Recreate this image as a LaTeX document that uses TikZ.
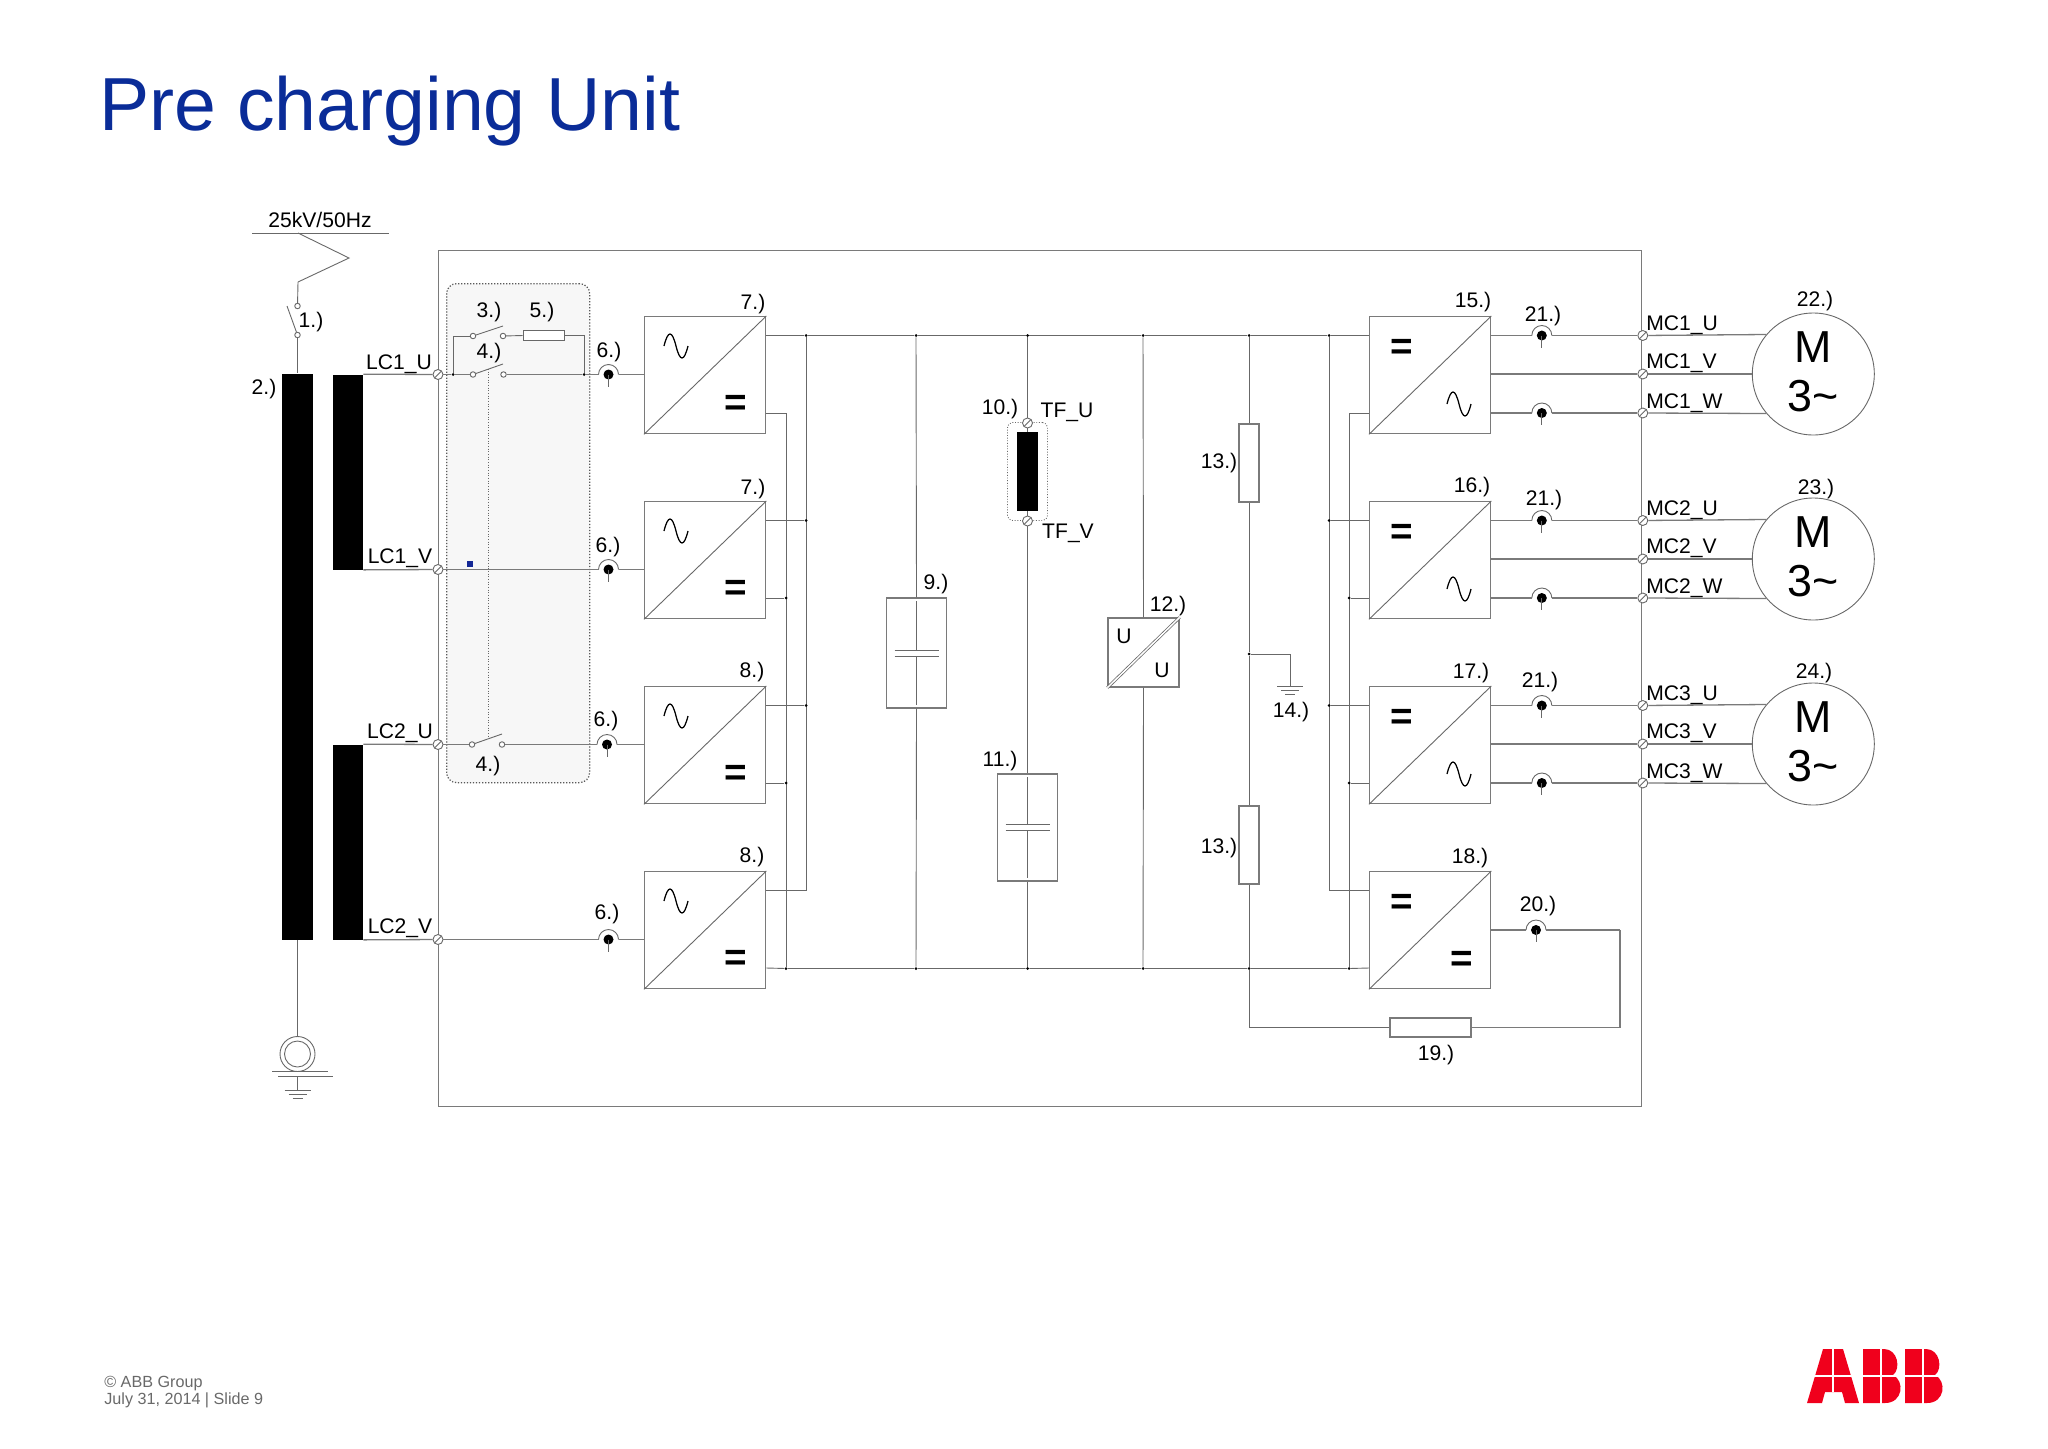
\documentclass[tikz,border=0pt]{standalone}
\usepackage{fontspec}
\setmainfont{Liberation Sans}
\usetikzlibrary{calc}
\definecolor{wirecolor}{RGB}{122,122,122}
\definecolor{titleblue}{RGB}{10,44,152}
\definecolor{footgray}{RGB}{105,105,105}
\definecolor{abbred}{RGB}{240,0,28}
\definecolor{shadegray}{RGB}{247,247,247}
\definecolor{markblue}{RGB}{20,40,150}
\tikzset{
    wire/.style={
        draw=wirecolor,
        line width=0.26mm,
    },
    thin wire/.style={
        draw=wirecolor!85!black,
        line width=0.18mm,
    },
    part label/.style={
        font=\fontsize{12}{14}\selectfont,
        inner sep=0,
        anchor=base,
    },
    name label/.style={
        part label,
    },
    motor text/.style={
        font=\fontsize{25.5}{28}\selectfont,
        inner sep=0,
        anchor=base,
    },
    junction point/.style={
        fill=black,
        circle,
        minimum size=0.6mm,
        inner sep=0,
    },
    terminal point/.style={
        thin wire,
        fill=white,
        circle,
        minimum size=2mm,
        inner sep=0,
        path picture={
            \draw[thin wire] (path picture bounding box.south west) -- (path picture bounding box.north east);
        },
    },
    contact point/.style={
        thin wire,
        fill=white,
        circle,
        minimum size=1.1mm,
        inner sep=0,
    },
    fuse dot/.style={
        fill=black,
        circle,
        minimum size=2mm,
        inner sep=0,
    },
    coil block/.style={
        fill=black,
        rectangle,
        inner sep=0,
    },
    plain box/.style={
        wire,
        rectangle,
        fill=white,
        inner sep=0,
    },
    converter box/.style={
        plain box,
        anchor=north west,
        minimum width=24.2mm,
        minimum height=23.4mm,
    },
    motor circle/.style={
        thin wire,
        circle,
        fill=white,
        minimum size=24.4mm,
        inner sep=0,
    },
    equal sign/.style={
        font=\fontsize{22}{24}\selectfont\bfseries,
        inner sep=0,
    },
    sine wave/.style={
        draw=black,
        line width=0.25mm,
    },
}
\begin{document}
\begin{tikzpicture}[x=0.2mm,y=-0.2mm]

    \useasboundingbox (0,0) rectangle (2048,1448);

    \newcommand\sinewave[1]{
        \draw[sine wave] ($(#1)+(-12,0)$) .. controls ($(#1)+(-8,-16)$) and ($(#1)+(-4,-16)$) .. (#1)
            .. controls ($(#1)+(4,16)$) and ($(#1)+(8,16)$) .. ($(#1)+(12,0)$);
    }
    \newcommand\fusemark[2]{
        \node[fuse dot] (#1) at (#2) {};
        \coordinate (#1w) at ($(#1.center)+(-10,0)$);
        \coordinate (#1e) at ($(#1.center)+(10,0)$);
        \draw[thin wire] (#1w) arc[start angle=180,end angle=0,radius=2mm];
        \draw[thin wire] (#1.center) -- ($(#1.center)+(0,12)$);
    }
    \newcommand\capplates[1]{
        \draw[thin wire] ($(#1.north)+(0,4)$) -- ($(#1.center)+(0,-3)$);
        \draw[thin wire] ($(#1.south)+(0,-4)$) -- ($(#1.center)+(0,3)$);
        \draw[thin wire] ($(#1.center)+(-22,-3)$) -- ($(#1.center)+(22,-3)$);
        \draw[thin wire] ($(#1.center)+(-22,3)$) -- ($(#1.center)+(22,3)$);
    }
    \newcommand\earthmark[1]{
        \draw[thin wire] ($(#1)+(-13,0)$) -- ($(#1)+(13,0)$);
        \draw[thin wire] ($(#1)+(-9,4)$) -- ($(#1)+(9,4)$);
        \draw[thin wire] ($(#1)+(-5,8)$) -- ($(#1)+(5,8)$);
    }

    % slide texts
    \node[anchor=base west,inner sep=0,text=titleblue,font=\fontsize{42.8}{50}\selectfont] (slidetitle) at (99,130) {Pre charging Unit};
    \node[anchor=base west,inner sep=0,text=footgray,font=\fontsize{9.2}{11}\selectfont] (footone) at (104,1387) {© ABB Group};
    \node[anchor=base west,inner sep=0,text=footgray,font=\fontsize{9.2}{11}\selectfont] (foottwo) at (104,1404) {July 31, 2014 | Slide 9};

    % logo
    \fill[abbred] (1823,1349) -- (1843,1349) -- (1859,1403) -- (1845,1403) -- (1842,1392) -- (1825,1392) -- (1822,1403) -- (1807,1403) -- cycle;
    \foreach \x in {1863,1905}
    {
        \fill[abbred] (\x,1349) -- ($(\x,1349)+(21,0)$) .. controls ($(\x,1349)+(35,0)$) and ($(\x,1349)+(38,20)$) .. ($(\x,1349)+(30,26)$)
            .. controls ($(\x,1349)+(42,32)$) and ($(\x,1349)+(40,54)$) .. ($(\x,1349)+(22,54)$) -- ($(\x,1349)+(0,54)$) -- cycle;
        \draw[white,line width=0.3mm] ($(\x,1349)+(18,-1)$) -- ($(\x,1349)+(18,55)$);
    }
    \draw[white,line width=0.3mm] (1800,1376) -- (1945,1376);
    \draw[white,line width=0.3mm] (1833,1348) -- (1833,1392);

    % outer frame and pre charging group
    \node[wire,rectangle,minimum width=240.6mm,minimum height=171.2mm,inner sep=0,anchor=north west] (unit) at (437.5,250) {};
    \node[draw=black!65,densely dotted,line width=0.25mm,fill=shadegray,rectangle,rounded corners=2mm,minimum width=28.6mm,minimum height=99.8mm,inner sep=0,anchor=north west] (group) at (446,283) {};
    \node[fill=markblue,minimum size=1.2mm,inner sep=0] (marker) at (470,564) {};

    % catenary and transformer
    \coordinate (lineleft) at (252,233);
    \coordinate (lineright) at (389,233);
    \coordinate (zigone) at (298,233);
    \coordinate (zigtwo) at (349,258);
    \coordinate (zigthree) at (298,282);
    \node[part label] (supply) at (320,227) {25kV/50Hz};
    \draw[thin wire] (lineleft) -- (lineright);
    \draw[thin wire] (zigone) -- (zigtwo) -- (zigthree);
    \node[coil block,minimum width=6.2mm,minimum height=113.2mm] (prim) at (297.5,656.5) {};
    \node[coil block,minimum width=6mm,minimum height=39mm] (secone) at (348,472) {};
    \node[coil block,minimum width=6mm,minimum height=39mm] (sectwo) at (348,842) {};
    \node[contact point] (mainup) at (297.5,306) {};
    \node[contact point] (maindown) at (297.5,335) {};
    \coordinate (mainblade) at (287,306);
    \draw[thin wire] (zigthree) -- (mainup);
    \draw[thin wire] (maindown) -- (prim.north);
    \draw[thin wire] (mainblade) -- (maindown);

    % return earth
    \node[thin wire,circle,minimum size=7mm,inner sep=0] (earthout) at (297.5,1054) {};
    \node[thin wire,circle,minimum size=5.2mm,inner sep=0] (earthin) at (297.5,1054) {};
    \coordinate (earthbar) at (297.5,1090);
    \draw[thin wire] (prim.south) -- (earthout.north);
    \draw[thin wire] (272,1071) -- (328,1071);
    \draw[thin wire] (278,1076) -- (333,1076);
    \draw[thin wire] (297.5,1076) -- (earthbar);
    \earthmark{earthbar}

    % terminals on the frame
    \foreach \i/\y in {1/374.5,2/569.5,3/744.5,4/939.5}
    {
        \node[terminal point] (TL\i) at (438,\y) {};
    }
    \fusemark{F1}{608.5,374.5}
    \fusemark{F2}{608.5,569.5}
    \fusemark{F3}{607,744.5}
    \fusemark{F4}{608.5,939.5}

    % converters
    \foreach \i/\y in {1/316,2/501,3/686,4/871}
    {
        \node[converter box] (L\i) at (644,\y) {};
        \node[converter box] (R\i) at (1369,\y) {};
        \draw[thin wire] (L\i.south west) -- (L\i.north east);
        \draw[thin wire] (R\i.south west) -- (R\i.north east);
        \coordinate (Lsine\i) at ($(L\i.north west)+(32,30)$);
        \sinewave{Lsine\i}
        \node[equal sign] (Leq\i) at ($(L\i.north west)+(91.5,89)$) {=};
        \node[equal sign] (Req\i) at ($(R\i.north west)+(33,33)$) {=};
        \coordinate (Lt\i) at ($(L\i.north east)+(0,19.5)$);
        \coordinate (Lb\i) at ($(L\i.north east)+(0,97)$);
        \coordinate (Rt\i) at ($(R\i.north west)+(0,19.5)$);
        \coordinate (Rb\i) at ($(R\i.north west)+(0,97)$);
        \coordinate (Ru\i) at ($(R\i.north east)+(0,19.5)$);
        \coordinate (Rv\i) at ($(R\i.north east)+(0,58)$);
        \coordinate (Rw\i) at ($(R\i.north east)+(0,97)$);
    }
    \foreach \i in {1,2,3}
    {
        \coordinate (Rsine\i) at ($(R\i.north west)+(90,88)$);
        \sinewave{Rsine\i}
    }
    \node[equal sign] (Req5) at ($(R4.north west)+(93,90)$) {=};

    % input side
    \draw[wire] (secone.north east) -- (TL1);
    \draw[wire] (secone.south east) -- (TL2);
    \draw[wire] (sectwo.north east) -- (TL3);
    \draw[wire] (sectwo.south east) -- (TL4);

    \node[junction point] (dotA) at (453,374.5) {};
    \node[junction point] (dotB) at (584,374.5) {};
    \node[contact point] (Sa) at (473,336) {};
    \node[contact point] (Sb) at (503,336) {};
    \node[contact point] (Sc) at (473,374.5) {};
    \node[contact point] (Sd) at (503.5,374.5) {};
    \node[contact point] (Se) at (472,744.5) {};
    \node[contact point] (Sf) at (502,744.5) {};
    \node[thin wire,rectangle,fill=white,minimum width=8.2mm,minimum height=2mm,inner sep=0] (R5) at (543.5,335) {};
    \coordinate (bladeA) at (503,326);
    \coordinate (bladeB) at (503,364);
    \coordinate (bladeC) at (502,734);
    \coordinate (linkup) at (488,369);
    \coordinate (linkdown) at (488,738);

    \draw[wire] (TL1) -- (dotA) -- (Sc);
    \draw[wire] (Sd) -- (dotB) -- (F1w);
    \draw[thin wire] (dotA) |- (Sa);
    \draw[thin wire] (Sb) -- (R5);
    \draw[thin wire] (R5) -| (dotB);
    \draw[thin wire] (Sa) -- (bladeA);
    \draw[thin wire] (Sc) -- (bladeB);
    \draw[thin wire] (Se) -- (bladeC);
    \draw[thin wire,densely dotted] (linkup) -- (linkdown);
    \draw[wire] (TL2) -- (F2w);
    \draw[wire] (TL3) -- (Se);
    \draw[wire] (Sf) -- (F3w);
    \draw[wire] (TL4) -- (F4w);
    \foreach \i in {1,2,3,4}
    {
        \draw[wire] (F\i e) -- (L\i.west |- F\i e);
    }

    % DC link
    \foreach \i/\x in {1/806,2/916,3/1027.5,4/1143,5/1249,6/1329}
    {
        \node[junction point] (T\i) at (\x,335.5) {};
    }
    \foreach \i/\x in {1/786,2/916,3/1027.5,4/1143,5/1249,6/1349}
    {
        \node[junction point] (B\i) at (\x,968.5) {};
    }
    \draw[thin wire] (Lt1) -- (T1) -- (T2) -- (T3) -- (T4) -- (T5) -- (T6) -- (Rt1);
    \draw[thin wire] (Lb4) -- (B1) -- (B2) -- (B3) -- (B4) -- (B5) -- (B6) -- (Rb4);
    \draw[thin wire] (Lb1) -| (B1);
    \draw[thin wire] (Lt4) -| (T1);
    \draw[thin wire] (Rb1) -| (B6);
    \draw[thin wire] (Rt4) -| (T6);
    \foreach \i in {2,3}
    {
        \node[junction point] (Jlt\i) at (T1 |- Lt\i) {};
        \node[junction point] (Jlb\i) at (B1 |- Lb\i) {};
        \node[junction point] (Jrt\i) at (T6 |- Rt\i) {};
        \node[junction point] (Jrb\i) at (B6 |- Rb\i) {};
        \draw[thin wire] (Lt\i) -- (Jlt\i);
        \draw[thin wire] (Lb\i) -- (Jlb\i);
        \draw[thin wire] (Jrt\i) -- (Rt\i);
        \draw[thin wire] (Jrb\i) -- (Rb\i);
    }

    % capacitors, filter choke, voltage measurement
    \node[plain box,minimum width=12mm,minimum height=22mm] (C9) at (916.5,653) {};
    \capplates{C9}
    \draw[thin wire] (T2) -- (C9.north);
    \draw[thin wire] (C9.south) -- (B2);

    \node[thin wire,densely dotted,rectangle,rounded corners=1mm,minimum width=8mm,minimum height=19.6mm,inner sep=0] (TFgroup) at (1027.5,471.5) {};
    \node[coil block,minimum width=4.2mm,minimum height=15.8mm] (TFcoil) at (1027.5,471.5) {};
    \node[terminal point] (TFu) at (1027.5,423) {};
    \node[terminal point] (TFv) at (1027.5,521) {};
    \node[plain box,minimum width=12mm,minimum height=21.4mm] (C11) at (1027.5,827.5) {};
    \capplates{C11}
    \draw[thin wire] (T3) -- (TFu);
    \draw[thin wire] (TFu) -- (TFcoil.north);
    \draw[thin wire] (TFcoil.south) -- (TFv);
    \draw[thin wire] (TFv) -- (C11.north);
    \draw[thin wire] (C11.south) -- (B3);

    \node[plain box,minimum width=14.2mm,minimum height=13.8mm] (U12) at (1143.5,652.5) {};
    \draw[thin wire,line width=0.15mm,double=white,double distance=0.3mm] (U12.south west) -- (U12.north east);
    \node[part label] (Uup) at (1124,643) {U};
    \node[part label] (Udown) at (1162,677) {U};
    \draw[thin wire] (T4) -- (U12.north);
    \draw[thin wire] (U12.south) -- (B4);

    % brake chopper branch
    \node[plain box,minimum width=4mm,minimum height=15.6mm] (R13a) at (1249,463) {};
    \node[plain box,minimum width=4mm,minimum height=15.6mm] (R13b) at (1249,845) {};
    \node[junction point] (J14) at (1249,654) {};
    \coordinate (earthtop) at (1290,686);
    \draw[thin wire] (T5) -- (R13a.north);
    \draw[thin wire] (R13a.south) -- (J14) -- (R13b.north);
    \draw[thin wire] (R13b.south) -- (B5);
    \draw[thin wire] (J14) -| (earthtop);
    \earthmark{earthtop}

    \fusemark{F5}{1536,930}
    \node[plain box,minimum width=16.2mm,minimum height=3.8mm] (R19) at (1430.5,1027.5) {};
    \coordinate (loopcorner) at (1620,930);
    \draw[wire] (R4.east |- F5w) -- (F5w);
    \draw[wire] (F5e) -- (loopcorner);
    \draw[wire] (loopcorner) |- (R19.east);
    \draw[thin wire] (B5) |- (R19.west);

    % motors
    \foreach \i in {1,2,3}
    {
        \fusemark{Gu\i}{$(Ru\i)+(50.5,0)$}
        \fusemark{Gw\i}{$(Rw\i)+(50.5,0)$}
        \node[terminal point] (Mu\i) at ($(Ru\i)+(151.5,0)$) {};
        \node[terminal point] (Mv\i) at ($(Rv\i)+(151.5,0)$) {};
        \node[terminal point] (Mw\i) at ($(Rw\i)+(151.5,0)$) {};
        \node[motor circle] (Mot\i) at ($(Rv\i)+(322,0)$) {};
        \node[motor text] (Mtop\i) at ($(Mot\i.center)+(0,-12)$) {M};
        \node[motor text] (Mnum\i) at ($(Mot\i.center)+(0,37)$) {3\string~};
        \draw[wire] (Ru\i) -- (Gu\i w);
        \draw[wire] (Gu\i e) -- (Mu\i);
        \draw[wire] (Rv\i) -- (Mv\i);
        \draw[wire] (Rw\i) -- (Gw\i w);
        \draw[wire] (Gw\i e) -- (Mw\i);
        \draw[wire] (Mu\i) -- (Mot\i.140);
        \draw[wire] (Mv\i) -- (Mot\i.180);
        \draw[wire] (Mw\i) -- (Mot\i.220);
    }

    % item numbers
    \foreach \x/\y/\txt [count=\n] in {
        311/327/1.), 264/394/2.), 489/317/3.), 542/317/5.), 489/358/4.), 488/771/4.),
        609/357/6.), 608/552/6.), 606/726/6.), 607/919/6.),
        753/309/7.), 753/494/7.), 752/677/8.), 752/862/8.),
        936/589/9.), 1000/414/10.), 1000/766/11.), 1168/611/12.),
        1219/468/13.), 1219/853/13.), 1291/717/14.),
        1473/307/15.), 1472/492/16.), 1471/678/17.), 1470/863/18.),
        1436/1060/19.), 1538/911/20.),
        1543/321/21.), 1544/505/21.), 1540/687/21.),
        1815/306/22.), 1816/494/23.), 1814/678/24.)}
    {
        \node[part label] (tag\n) at (\x,\y) {\txt};
    }

    % terminal names
    \foreach \x/\y/\txt [count=\n] in {
        399/369/LC1\_U, 400/563/LC1\_V, 400/738/LC2\_U, 400/933/LC2\_V,
        1067/417/TF\_U, 1068/538/TF\_V}
    {
        \node[name label] (termname\n) at (\x,\y) {\txt};
    }
    \foreach \y/\txt [count=\n] in {
        330/MC1\_U, 368/MC1\_V, 408/MC1\_W,
        515/MC2\_U, 553/MC2\_V, 593/MC2\_W,
        700/MC3\_U, 738/MC3\_V, 778/MC3\_W}
    {
        \node[name label,anchor=base west] (motname\n) at (1646,\y) {\txt};
    }

\end{tikzpicture}
\end{document}
